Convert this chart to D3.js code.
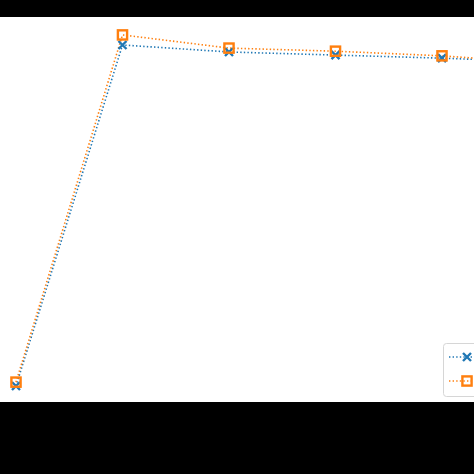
<!DOCTYPE html>
<html>
<head>
<meta charset="utf-8">
<script src="https://cdn.jsdelivr.net/npm/d3@7"></script>
<style>
  html, body { margin: 0; padding: 0; background: #000; }
  svg { display: block; }
</style>
</head>
<body>
<div id="chart"></div>
<script>
// chart values
var steps = ["1", "2", "3", "4", "5", "6"];
var seriesA = [0.000, 0.880, 0.862, 0.854, 0.846, 0.836];
var seriesB = [0.010, 0.906, 0.872, 0.864, 0.852, 0.833];
var seriesNames = ["A", "B"];

var W = 474, H = 474;
var plotTop = 17, plotBottom = 402;

var xScale = d3.scalePoint().domain(steps).range([16, 548.5]);
var yScale = d3.scaleLinear().domain([0, 0.88]).range([386, 45]);
var colors = ['#1f77b4', '#ff7f0e'];

var svg = d3.select('#chart').append('svg')
    .attr('width', W)
    .attr('height', H);

// black frame bands, white plot area
svg.append('rect').attr('width', W).attr('height', H).style('fill', '#000');
svg.append('rect')
   .attr('x', 0).attr('y', plotTop)
   .attr('width', W).attr('height', plotBottom - plotTop)
   .style('fill', '#fff');

svg.append('clipPath').attr('id', 'plotclip')
   .append('rect')
   .attr('x', 0).attr('y', plotTop)
   .attr('width', W).attr('height', plotBottom - plotTop);

var plot = svg.append('g').attr('clip-path', 'url(#plotclip)');

var line = d3.line()
    .x(function(d, i) { return xScale(steps[i]) })
    .y(function(d) { return yScale(d) });

var series = [seriesA, seriesB];

// dotted lines
series.forEach(function(vals, k) {
    plot.append('path')
        .attr('d', line(vals))
        .style('fill', 'none')
        .style('stroke', colors[k])
        .style('stroke-width', 1.6)
        .style('stroke-dasharray', '1.4,2.2');
});

var drawX = function(g, cx, cy, s) {
    g.append('path')
     .attr('d', 'M' + (cx - s) + ',' + (cy - s) + 'L' + (cx + s) + ',' + (cy + s) +
                'M' + (cx - s) + ',' + (cy + s) + 'L' + (cx + s) + ',' + (cy - s))
     .style('stroke', colors[0])
     .style('stroke-width', 2.4)
     .style('fill', 'none');
};
var drawSq = function(g, cx, cy, s) {
    g.append('rect')
     .attr('x', cx - s).attr('y', cy - s)
     .attr('width', 2 * s).attr('height', 2 * s)
     .style('stroke', colors[1])
     .style('stroke-width', 2.4)
     .style('fill', 'none');
};

// markers
seriesA.forEach(function(v, i) { drawX(plot, xScale(steps[i]), yScale(v), 4); });
seriesB.forEach(function(v, i) { drawSq(plot, xScale(steps[i]), yScale(v), 4.6); });

// legend (cut off at the right edge)
var leg = plot.append('g');
leg.append('rect')
   .attr('x', 443.5).attr('y', 343.5)
   .attr('width', 60).attr('height', 53)
   .attr('rx', 3)
   .style('fill', '#fff')
   .style('fill-opacity', 0.8)
   .style('stroke', '#d6d6d6')
   .style('stroke-width', 1);

seriesNames.forEach(function(name, k) {
    var ly = 357 + k * 24;
    leg.append('line')
       .attr('x1', 449).attr('x2', 485)
       .attr('y1', ly).attr('y2', ly)
       .style('stroke', colors[k])
       .style('stroke-width', 1.6)
       .style('stroke-dasharray', '1.4,2.2');
    if (k == 0) { drawX(leg, 467, ly, 4); } else { drawSq(leg, 467, ly, 4.6); }
});
</script>
</body>
</html>
